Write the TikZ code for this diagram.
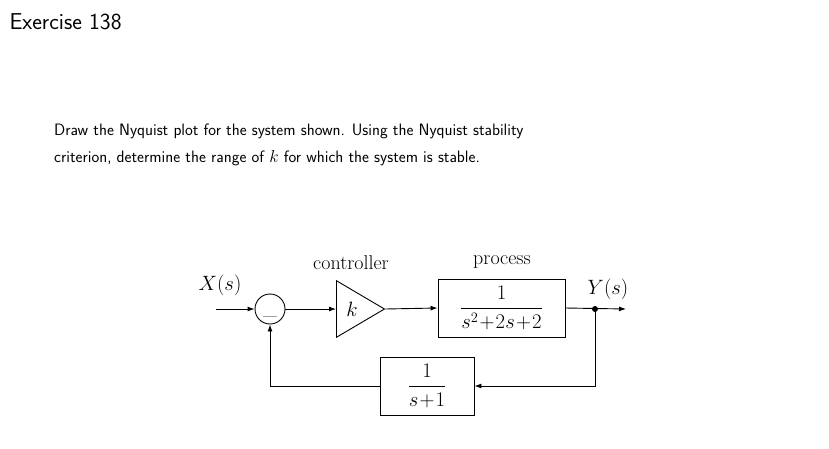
\documentclass[tikz,border=0pt]{standalone}
\usepackage{amsmath}
\usetikzlibrary{arrows.meta,shapes.geometric}
\begin{document}
\begin{tikzpicture}[x=1pt,y=-1pt,
  blk/.style={draw,line width=0.9pt,minimum width=127pt,minimum height=58pt,inner sep=0pt},
  con/.style={line width=0.9pt,-{Latex[length=7pt,width=5pt]}},
  lbl/.style={font=\fontsize{20}{24}\selectfont}]
\useasboundingbox (0,0) rectangle (829,448);
\node[anchor=west,font=\sffamily\fontsize{23}{28}\selectfont] (title) at (6,22) {Exercise 138};
\node[anchor=north west,align=left,font=\sffamily\fontsize{16.5}{27}\selectfont,inner sep=0pt] (txt) at (54,124)
 {Draw the Nyquist plot for the system shown. Using the Nyquist stability\\criterion, determine the range of $k$ for which the system is stable.};
\node[draw,circle,line width=0.9pt,minimum size=30pt,inner sep=0pt] (sum) at (270,309) {};
\node[lbl] (minus) at (270,316) {\_};
\coordinate (in) at (216,309);
\node[draw,line width=0.9pt,isosceles triangle,isosceles triangle apex angle=61,minimum height=48pt,inner sep=0pt,anchor=west] (ctl) at (336,309) {};
\node[lbl] (k) at (352,309) {$k$};
\node[blk,lbl] (proc) at (501.5,308) {$\dfrac{1}{s^2\!+\!2s\!+\!2}$};
\node[blk,lbl,minimum width=94pt] (fb) at (427,386) {$\dfrac{1}{s\!+\!1}$};
\coordinate (out) at (626,309);
\coordinate (br) at (595,309);
\fill (br) circle (3pt);
\node[lbl] (xl) at (220,285) {$X(s)$};
\node[lbl] (yl) at (608,289) {$Y(s)$};
\node[lbl] (cl) at (351,263) {controller};
\node[lbl] (pl) at (502,262) {process};
\draw[con] (in) -- (sum.west);
\draw[con] (sum.east) -- (ctl.west);
\draw[con] (ctl.apex) -- (proc.west);
\draw[con] (proc.east) -- (out);
\draw[con] (br) |- (fb.east);
\draw[con] (fb.west) -| (sum.south);
\end{tikzpicture}
\end{document}
